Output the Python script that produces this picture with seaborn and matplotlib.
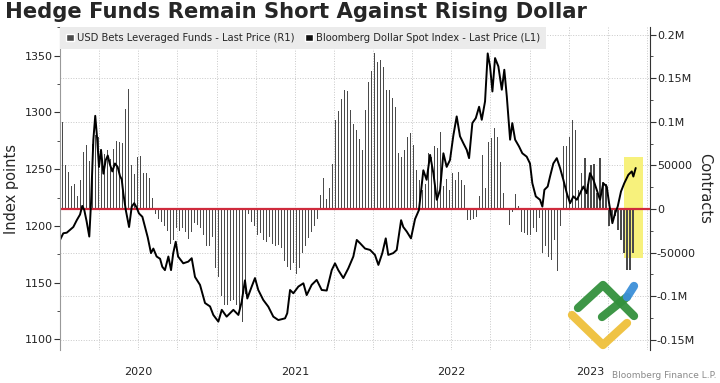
import matplotlib
matplotlib.use("Agg")
import matplotlib.pyplot as plt
import matplotlib.dates as mdates
from matplotlib.lines import Line2D
from matplotlib.patches import Patch, Rectangle
from matplotlib.ticker import FixedLocator, FixedFormatter, MultipleLocator, FuncFormatter, NullFormatter
import numpy as np
import pandas as pd
import seaborn as sns

title = "Hedge Funds Remain Short Against Rising Dollar"
bar_label = "USD Bets Leveraged Funds - Last Price (R1)"
line_label = "Bloomberg Dollar Spot Index - Last Price (L1)"

# weekly leveraged-fund USD bets, thousands of contracts, first report 2020-01-07
bets_start = "2020-01-07"
bets_k = [
    100, 50, 42, 26, 29, 15, 33, 65, 73, 55, 75, 85, 83, 65, 63, 68, 57, 69, 78, 77,
    76, 115, 138, 50, 40, 60, 61, 41, 41, 35, 13, -6, -11, -15, -19, -25, -40, -35, -22, -25,
    -22, -26, -34, -26, -16, -18, -22, -30, -42, -43, -32, -68, -78, -100, -110, -110, -106, -104, -110, -118,
    -130, -97, -6, -15, -20, -30, -28, -36, -38, -32, -40, -43, -41, -45, -60, -66, -70, -62, -75, -68,
    -50, -42, -33, -26, -20, -12, 16, 35, 12, 24, 52, 102, 112, 126, 136, 135, 114, 98, 91, 80,
    68, 114, 146, 158, 179, 169, 171, 163, 137, 137, 127, 117, 64, 60, 68, 83, 87, 73, 45, 33,
    22, 29, 64, 60, 72, 70, 88, 26, 34, 22, 41, 33, 42, 33, 28, -13, -13, -11, -9, 15,
    62, 24, 77, 81, 93, 82, 54, 18, 0, -18, -3, 17, 3, -26, -27, -30, -30, -22, -26, -10,
    -51, -43, -55, -58, -36, -71, -20, 72, 72, 83, 102, 91, 22, 41, 58, 29, 51, 52, 18, 58,
    31, 29, -20, -14, -8, -24, -36, -51, -70, -70, -50,
]

# Bloomberg Dollar Spot Index, read by eye; time as decimal year
dxy_year = [
    2020.000, 2020.021, 2020.043, 2020.064, 2020.085, 2020.107, 2020.128, 2020.142, 2020.155, 2020.170,
    2020.187, 2020.198, 2020.213, 2020.225, 2020.236, 2020.249, 2020.262, 2020.277, 2020.292, 2020.305,
    2020.319, 2020.334, 2020.351, 2020.368, 2020.383, 2020.394, 2020.404, 2020.420, 2020.441, 2020.458,
    2020.474, 2020.490, 2020.504, 2020.526, 2020.543, 2020.560, 2020.581, 2020.596, 2020.617, 2020.639,
    2020.653, 2020.670, 2020.692, 2020.709, 2020.723, 2020.739, 2020.754, 2020.787, 2020.819, 2020.841,
    2020.862, 2020.894, 2020.926, 2020.958, 2020.979, 2021.011, 2021.033, 2021.064, 2021.107, 2021.139,
    2021.160, 2021.181, 2021.196, 2021.224, 2021.245, 2021.266, 2021.298, 2021.330, 2021.362, 2021.394,
    2021.437, 2021.451, 2021.469, 2021.490, 2021.522, 2021.554, 2021.575, 2021.607, 2021.639, 2021.671,
    2021.703, 2021.735, 2021.756, 2021.777, 2021.809, 2021.841, 2021.873, 2021.895, 2021.916, 2021.948,
    2021.980, 2022.011, 2022.033, 2022.058, 2022.080, 2022.096, 2022.128, 2022.150, 2022.178, 2022.192,
    2022.214, 2022.241, 2022.267, 2022.292, 2022.320, 2022.341, 2022.363, 2022.384, 2022.406, 2022.427,
    2022.448, 2022.469, 2022.490, 2022.512, 2022.533, 2022.554, 2022.575, 2022.597, 2022.612, 2022.633,
    2022.655, 2022.676, 2022.693, 2022.714, 2022.731, 2022.746, 2022.761, 2022.778, 2022.799, 2022.821,
    2022.837, 2022.853, 2022.874, 2022.888, 2022.906, 2022.931, 2022.952, 2022.980, 2023.001, 2023.016,
    2023.038, 2023.065, 2023.080, 2023.093, 2023.114, 2023.129, 2023.150, 2023.172, 2023.193, 2023.214,
    2023.236, 2023.257, 2023.278, 2023.300, 2023.321, 2023.342, 2023.363, 2023.384, 2023.406, 2023.427,
    2023.448, 2023.469, 2023.491, 2023.506, 2023.527, 2023.544, 2023.561, 2023.582, 2023.603, 2023.629,
    2023.651, 2023.661, 2023.676,
]
dxy_value = [
    1187.6, 1193.5, 1194.0, 1196.5, 1199.0, 1205.0, 1210.0, 1217.6, 1214.0, 1204.0,
    1190.6, 1220.0, 1276.0, 1297.0, 1279.0, 1252.0, 1267.0, 1246.0, 1258.0, 1262.0,
    1254.0, 1248.0, 1255.0, 1252.0, 1244.0, 1241.0, 1229.0, 1214.0, 1199.0, 1217.0,
    1220.0, 1216.0, 1211.0, 1208.0, 1199.0, 1190.0, 1176.0, 1180.0, 1173.0, 1171.0,
    1164.0, 1161.0, 1173.0, 1161.0, 1176.0, 1186.0, 1173.0, 1167.0, 1168.5, 1171.5,
    1155.0, 1148.0, 1132.0, 1129.0, 1121.5, 1115.6, 1126.0, 1120.0, 1126.0, 1121.5,
    1133.0, 1152.0, 1136.0, 1146.5, 1154.0, 1143.5, 1134.7, 1128.8, 1120.0, 1117.0,
    1118.5, 1123.0, 1143.5, 1140.6, 1146.5, 1149.4, 1139.0, 1148.0, 1152.4, 1143.5,
    1143.0, 1161.0, 1167.0, 1161.0, 1154.0, 1162.6, 1173.0, 1187.6, 1184.7, 1180.0,
    1178.8, 1174.4, 1165.6, 1176.0, 1189.0, 1174.4, 1176.0, 1178.8, 1205.0, 1199.0,
    1195.0, 1189.0, 1206.0, 1214.0, 1249.0, 1240.6, 1262.6, 1246.5, 1223.0, 1231.8,
    1264.0, 1252.0, 1258.0, 1280.0, 1296.5, 1279.0, 1273.0, 1267.0, 1259.7, 1290.6,
    1295.0, 1305.0, 1293.5, 1309.7, 1352.0, 1340.6, 1318.5, 1347.9, 1340.6, 1320.0,
    1337.6, 1314.0, 1276.0, 1290.6, 1276.0, 1270.0, 1264.0, 1261.0, 1255.0, 1237.6,
    1226.0, 1223.0, 1217.0, 1231.8, 1234.7, 1243.5, 1255.0, 1259.7, 1251.0, 1240.6,
    1228.8, 1220.0, 1226.0, 1223.0, 1228.8, 1234.7, 1228.8, 1246.5, 1240.6, 1231.8,
    1223.0, 1237.6, 1234.7, 1220.0, 1202.4, 1211.0, 1217.0, 1230.3, 1237.6, 1245.0,
    1248.0, 1243.5, 1251.0,
]

year_labels = ["2020", "2021", "2022", "2023"]
year_centers = ["2020-07-02", "2021-07-02", "2022-07-02", "2023-05-21"]
x_range = ["2020-01-01", "2023-10-08"]
highlight_dates = ["2023-08-08", "2023-09-22"]
highlight_k = [-56.5, 59.3]


def to_num(dates):
    return mdates.date2num(pd.to_datetime(dates).values)


bets = pd.DataFrame({
    "date": pd.date_range(bets_start, periods=len(bets_k), freq="7D"),
    "contracts": np.array(bets_k) * 1000.0,
})
bets["x"] = to_num(bets["date"])

dxy_dates = pd.Timestamp("2020-01-01") + pd.to_timedelta((np.array(dxy_year) - 2020) * 365.25, unit="D")
dxy = pd.DataFrame({"x": to_num(dxy_dates), "value": dxy_value})

sns.set_theme(style="white")
plt.rcParams["font.family"] = ["DejaVu Sans"]

W, H = 720, 383
fig = plt.figure(figsize=(W / 100, H / 100), dpi=100)
ax = fig.add_axes([60 / W, 1 - 350 / H, 590 / W, 323 / H])

sns.barplot(data=bets, x="x", y="contracts", native_scale=True, color="#4a4a4a",
            saturation=1, width=0.45, errorbar=None, linewidth=0, ax=ax)
ax.axhline(0, color="#cf2a3c", lw=1.6, zorder=3)

hx = to_num(highlight_dates)
ax.add_patch(Rectangle((hx[0], highlight_k[0] * 1000), hx[1] - hx[0],
                       (highlight_k[1] - highlight_k[0]) * 1000,
                       facecolor="#f7f17c", edgecolor="none", zorder=0.8))

ax2 = ax.twinx()
sns.lineplot(data=dxy, x="x", y="value", color="black", linewidth=1.4, ax=ax2)

xr = to_num(x_range)
ax.set_xlim(xr[0], xr[1])
ax.set_ylim(-161700, 208700)
ax2.set_ylim(1090.6, 1375.3)

# right axis: contracts
ax.yaxis.tick_right()
ax.yaxis.set_label_position("right")
ax.set_yticks([-150000, -100000, -50000, 0, 50000, 100000, 150000, 200000])
ax.yaxis.set_major_formatter(FuncFormatter(
    lambda v, p: f"{v / 1e6:g}M" if abs(v) >= 100000 else f"{v:.0f}"))
ax.yaxis.set_minor_locator(MultipleLocator(25000))
ax.set_ylabel("Contracts", rotation=270, fontsize=10.5, labelpad=12)

# left axis: index
ax2.yaxis.tick_left()
ax2.yaxis.set_label_position("left")
ax2.set_yticks([1100, 1150, 1200, 1250, 1300, 1350])
ax2.yaxis.set_minor_locator(MultipleLocator(25))
ax2.set_ylabel("Index points", fontsize=10.5, labelpad=4)
ax2.set_xlabel("")

for a in (ax, ax2):
    a.tick_params(axis="y", which="major", direction="out", length=4, width=0.8,
                  color="#333333", labelsize=8, pad=1, labelcolor="#222222")
    a.tick_params(axis="y", which="minor", direction="out", length=2, width=0.6,
                  color="#333333")

# x axis: quarterly grid, year labels centred
ax.xaxis.set_major_locator(mdates.MonthLocator(bymonth=[1, 4, 7, 10]))
ax.xaxis.set_major_formatter(NullFormatter())
ax.xaxis.set_minor_locator(FixedLocator(to_num(year_centers)))
ax.xaxis.set_minor_formatter(FixedFormatter(year_labels))
ax.tick_params(axis="x", which="both", length=0, labelsize=8, pad=12, labelcolor="#222222")
ax.set_xlabel("")

ax.set_axisbelow(True)
ax.grid(True, which="major", axis="both", color="#c8c8c8", lw=0.7, ls=":")

for s in ("left", "top", "bottom"):
    ax.spines[s].set_visible(False)
ax.spines["right"].set_color("#333333")
ax.spines["right"].set_linewidth(0.8)
for s in ("right", "top", "bottom"):
    ax2.spines[s].set_visible(False)
ax2.spines["left"].set_color("#999999")
ax2.spines["left"].set_linewidth(0.8)

handles = [Patch(facecolor="#4d4d4d", label=bar_label),
           Patch(facecolor="#111111", label=line_label)]
leg = ax2.legend(handles=handles, loc="upper left", bbox_to_anchor=(0, 1), borderaxespad=0,
                 ncol=2, fontsize=7.2, frameon=True, fancybox=False, facecolor="#ebebeb",
                 edgecolor="none", framealpha=1, handlelength=0.8, handleheight=0.8,
                 handletextpad=0.3, columnspacing=1.0, borderpad=0.6)
leg.set_zorder(10)

fig.text(5 / W, 1 - 2 / H, title, fontsize=15.2, fontweight="bold", va="top", ha="left")
fig.text(716 / W, 1 - 371 / H, "Bloomberg Finance L.P.", fontsize=6.5, color="#8a8a8a",
         va="top", ha="right")

# watermark logo
logo = [
    ([578, 603, 634], [308, 285, 316], "#33913d"),
    ([602, 627], [317, 297], "#33913d"),
    ([627, 634], [297, 286], "#3c8fd8"),
    ([572, 603, 627], [315, 345, 323], "#efc03b"),
]
for xs, ys, c in logo:
    fig.add_artist(Line2D([v / W for v in xs], [1 - v / H for v in ys], color=c, lw=6,
                          solid_capstyle="round", solid_joinstyle="round",
                          transform=fig.transFigure, alpha=0.95))

fig.savefig("out.png", dpi=100)
